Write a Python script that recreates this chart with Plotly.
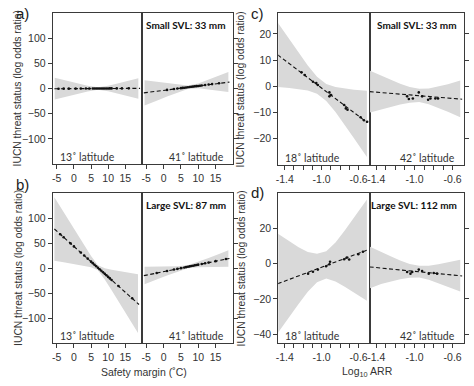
import plotly.graph_objects as go

W, H = 474, 386

# ---------------- data ----------------
# Panel a (safety margin, small SVL)
a13_band_x = [-5.6, -2, 1, 4, 7, 10, 13, 16, 18.8]
a13_band_up = [21.4, 15.5, 10.5, 5.7, 2.5, 5.7, 10.5, 15.5, 20.5]
a13_band_lo = [-22.0, -15.8, -10.7, -5.8, -2.5, -5.7, -10.5, -15.5, -20.5]
a13_line_x = [-5.7, 19.3]
a13_line_y = [-0.5, 0.3]
a13_pts_x = [-4.5, -3, -1.5, 0.5, 2, 3.5, 4.5, 5.5, 6, 6.5, 7, 7.5, 8, 8.5, 9, 9.5, 10, 10.5, 11, 12.5, 14, 16]
a13_pts_y = [-0.4, -0.3, -0.3, -0.2, -0.1, -0.1, 0, 0, 0, 0, 0.1, 0.1, 0.1, 0.1, 0.1, 0.1, 0.1, 0.2, 0.2, 0.2, 0.2, 0.3]

a41_band_x = [-5.5, -2, 1, 4, 7, 10, 13, 16, 18.7]
a41_band_up = [16.6, 13.3, 10.5, 7.9, 6.0, 10.0, 17.5, 25.6, 32.9]
a41_band_lo = [-33.6, -24.1, -16.1, -8.1, -1.0, 0.4, -1.9, -4.6, -7.1]
a41_line_x = [-5.7, 19.0]
a41_line_y = [-8.7, 12.7]
a41_pts_x = [1, 3, 4, 5, 5.5, 6, 6.5, 7, 7.5, 8, 8.5, 9, 9.5, 10, 10.5, 11, 12, 13, 14, 16]
a41_pts_y = [-2.8, -1.0, -0.1, 0.7, 1.2, 1.6, 2.1, 2.5, 3.0, 3.4, 3.8, 4.3, 4.7, 5.1, 5.6, 6.0, 6.9, 7.8, 8.7, 10.4]

# Panel b (safety margin, large SVL)
b13_band_x = [-5.7, -3, 0, 3, 5, 7, 9, 11, 13, 15, 17, 18.7]
b13_band_up = [141.6, 111.7, 78.6, 45.5, 23.9, 5.5, -0.5, -3.3, -5.7, -8.0, -10.3, -12.5]
b13_band_lo = [14.4, 11.3, 7.8, 4.3, 1.5, -4.5, -22.9, -44.5, -66.5, -88.6, -110.7, -130.0]
b13_line_x = [-5.7, 19.0]
b13_line_y = [78.0, -73.0]
b13_pts_x = [-4, -3, -1, 0, 2, 3, 4, 5, 5.5, 6, 6.5, 7, 7.5, 8, 8.5, 9, 9.5, 10, 10.5, 11, 13, 17]
b13_pts_y = [67.6, 61.5, 49.3, 43.2, 31.0, 24.9, 18.8, 12.7, 9.7, 6.6, 3.6, 0.5, -2.5, -5.6, -8.6, -11.7, -14.7, -17.8, -20.8, -23.9, -36.1, -60.5]

b41_band_x = [-5.5, -2, 1, 4, 7, 10, 13, 16, 18.7]
b41_band_up = [2.7, 2.85, 3.0, 3.5, 5.5, 11.9, 19.8, 28.0, 35.5]
b41_band_lo = [-32.7, -23.0, -14.8, -6.9, -0.5, 1.5, 2.0, 2.15, 2.3]
b41_line_x = [-5.7, 19.0]
b41_line_y = [-15.3, 19.0]
b41_pts_x = [-2, 1, 3, 4, 5, 6, 6.5, 7, 7.5, 8, 8.5, 9, 9.5, 10, 11, 12, 13, 15, 18]
b41_pts_y = [-10.1, -5.9, -3.1, -1.7, -0.3, 1.1, 1.8, 2.5, 3.2, 3.9, 4.6, 5.3, 6.0, 6.7, 8.1, 9.5, 10.9, 13.7, 17.9]

# Panel c (log10 ARR, small SVL)
c18_band_x = [-1.475, -1.35, -1.25, -1.15, -1.05, -0.95, -0.85, -0.75, -0.65, -0.51]
c18_band_up = [24.3, 17.9, 12.8, 8.0, 3.7, 0.95, -0.2, -0.8, -1.25, -1.7]
c18_band_lo = [-0.25, -0.65, -1.0, -1.6, -2.8, -5.55, -9.8, -14.6, -19.75, -26.9]
c18_line_x = [-1.475, -0.507]
c18_line_y = [12.0, -13.8]
c18_pts_x = [-1.218, -1.183, -1.094, -1.058, -1.041, -0.916, -0.898, -0.916, -0.756, -0.738, -0.72, -0.578, -0.542, -0.507]
c18_pts_y = [5.35, 4.33, 1.78, 1.27, 0.5, -2.3, -3.3, -3.8, -7.1, -8.4, -8.9, -11.8, -12.9, -13.5]

c42_band_x = [-1.466, -1.35, -1.25, -1.15, -1.05, -0.95, -0.85, -0.75, -0.65, -0.52]
c42_band_up = [6.0, 4.1, 2.5, 1.0, -0.2, -0.9, -0.8, 0.0, 0.8, 2.2]
c42_band_lo = [-10.0, -8.8, -7.8, -6.9, -6.2, -6.0, -6.8, -8.2, -9.7, -11.8]
c42_line_x = [-1.47, -0.5]
c42_line_y = [-2.0, -4.9]
c42_pts_x = [-1.077, -1.059, -1.017, -0.955, -0.92, -0.857, -0.833, -0.781, -0.753]
c42_pts_y = [-3.8, -4.8, -4.6, -2.3, -3.8, -5.1, -4.6, -4.6, -4.6]

# Panel d (log10 ARR, large SVL)
d18_band_x = [-1.475, -1.35, -1.25, -1.15, -1.05, -0.95, -0.85, -0.75, -0.65, -0.51]
d18_band_up = [17.0, 12.5, 9.2, 6.6, 5.6, 7.0, 11.9, 18.7, 25.9, 36.3]
d18_band_lo = [-39.4, -30.0, -22.9, -16.0, -10.6, -8.4, -10.1, -13.1, -16.3, -21.0]
d18_line_x = [-1.475, -0.51]
d18_line_y = [-11.4, 7.6]
d18_pts_x = [-1.147, -1.094, -1.041, -0.952, -0.916, -0.909, -0.756, -0.727, -0.702, -0.603, -0.553]
d18_pts_y = [-5.7, -4.6, -3.4, -1.5, -0.4, 1.0, 2.5, 3.4, 2.3, 5.3, 6.7]

d42_band_x = [-1.466, -1.35, -1.25, -1.15, -1.05, -0.95, -0.85, -0.75, -0.65, -0.52]
d42_band_up = [9.6, 6.5, 4.1, 1.7, -0.2, -1.2, -1.2, -0.4, 0.9, 2.2]
d42_band_lo = [-14.0, -11.5, -10.1, -8.9, -8.0, -7.9, -9.1, -11.0, -13.3, -15.8]
d42_line_x = [-1.47, -0.5]
d42_line_y = [-1.9, -7.0]
d42_pts_x = [-1.077, -1.042, -1.024, -0.955, -0.92, -0.85, -0.798, -0.763]
d42_pts_y = [-4.8, -5.7, -4.8, -3.4, -4.2, -5.7, -5.3, -5.7]

# tick labels
sm_ticks = [-5, 0, 5, 10, 15]
sm_ticktext = ["-5", "0", "5", "10", "15"]
arr_ticks = [-1.4, -1.0, -0.6]
arr_ticktext = ["-1.4", "-1.0", "-0.6"]
arr_minor_ticks = [-1.3, -1.2, -1.1, -0.9, -0.8, -0.7]
ab_yticks = [-100, -50, 0, 50, 100]
c_yticks = [-20, -10, 0, 10, 20]
d_yticks = [-40, -20, 0, 20]

panel_titles = ["Small SVL: 33 mm", "Large SVL: 87 mm", "Small SVL: 33 mm", "Large SVL: 112 mm"]
lat_left = ["13˚ latitude", "13˚ latitude", "18˚ latitude", "18˚ latitude"]
lat_right = ["41˚ latitude", "41˚ latitude", "42˚ latitude", "42˚ latitude"]
panel_letters = ["a)", "b)", "c)", "d)"]
ytitle = "IUCN threat status (log odds ratio)"
xtitle_sm = "Safety margin (˚C)"
xtitle_arr = "Log<sub>10</sub> ARR"

# ---------------- figure ----------------
def px(x):
    return x / W

def py(y):
    return 1 - y / H

fig = go.Figure()

BAND = "#d9d9d9"
AX = "#3a3a3a"
TXT = "#333333"
TICKFONT = dict(family="Liberation Sans, Arial", size=10.5, color=TXT)

subplots = [
    (1, a13_band_x, a13_band_up, a13_band_lo, a13_line_x, a13_line_y, a13_pts_x, a13_pts_y),
    (2, a41_band_x, a41_band_up, a41_band_lo, a41_line_x, a41_line_y, a41_pts_x, a41_pts_y),
    (3, b13_band_x, b13_band_up, b13_band_lo, b13_line_x, b13_line_y, b13_pts_x, b13_pts_y),
    (4, b41_band_x, b41_band_up, b41_band_lo, b41_line_x, b41_line_y, b41_pts_x, b41_pts_y),
    (5, c18_band_x, c18_band_up, c18_band_lo, c18_line_x, c18_line_y, c18_pts_x, c18_pts_y),
    (6, c42_band_x, c42_band_up, c42_band_lo, c42_line_x, c42_line_y, c42_pts_x, c42_pts_y),
    (7, d18_band_x, d18_band_up, d18_band_lo, d18_line_x, d18_line_y, d18_pts_x, d18_pts_y),
    (8, d42_band_x, d42_band_up, d42_band_lo, d42_line_x, d42_line_y, d42_pts_x, d42_pts_y),
]

for i, bx, up, lo, lx, ly, ptx, pty in subplots:
    xa = "x" if i == 1 else f"x{i}"
    ya = "y" if i == 1 else f"y{i}"
    fig.add_trace(go.Scatter(x=list(bx) + list(bx)[::-1], y=list(up) + list(lo)[::-1],
                             fill="toself", fillcolor=BAND, line=dict(width=0),
                             mode="lines", hoverinfo="skip", showlegend=False,
                             xaxis=xa, yaxis=ya))
    fig.add_trace(go.Scatter(x=lx, y=ly, mode="lines",
                             line=dict(color="#111", width=1.1, dash="4px,2.5px"),
                             showlegend=False, xaxis=xa, yaxis=ya))
    fig.add_trace(go.Scatter(x=ptx, y=pty, mode="markers",
                             marker=dict(color="#111", size=2.6),
                             showlegend=False, xaxis=xa, yaxis=ya))

# domains (pixels)
xd = {1: (50, 140), 2: (140, 231), 3: (50, 140), 4: (140, 231),
      5: (277, 369), 6: (369, 464), 7: (277, 369), 8: (369, 464)}
yd = {1: (13, 164), 2: (13, 164), 3: (193, 343), 4: (193, 343),
      5: (13, 165), 6: (13, 165), 7: (193, 343), 8: (193, 343)}
xr_sm = [-6.2, 19.9]
xr_arr = [-1.47, -0.48]
yranges = {1: [-150, 150], 2: [-150, 150], 3: [-150, 150], 4: [-150, 150],
           5: [-30, 28], 6: [-30, 28], 7: [-45, 40], 8: [-45, 40]}
yt = {1: ab_yticks, 2: ab_yticks, 3: ab_yticks, 4: ab_yticks,
      5: c_yticks, 6: c_yticks, 7: d_yticks, 8: d_yticks}

layout = {}
for i in range(1, 9):
    xk = "xaxis" if i == 1 else f"xaxis{i}"
    yk = "yaxis" if i == 1 else f"yaxis{i}"
    ya = "y" if i == 1 else f"y{i}"
    xa = "x" if i == 1 else f"x{i}"
    is_sm = i <= 4
    left = (i % 2 == 1)
    xdict = dict(
        domain=[px(xd[i][0]), px(xd[i][1])], anchor=ya,
        range=xr_sm if is_sm else xr_arr,
        tickvals=sm_ticks if is_sm else arr_ticks,
        ticktext=sm_ticktext if is_sm else arr_ticktext,
        ticks="outside", ticklen=4, tickwidth=1, tickcolor=AX,
        showline=True, linecolor=AX, linewidth=1, mirror=True,
        showgrid=False, zeroline=False, tickfont=TICKFONT, fixedrange=True,
    )
    if not is_sm:
        xdict["minor"] = dict(tickvals=arr_minor_ticks, ticks="outside", ticklen=4,
                              tickwidth=1, tickcolor=AX, showgrid=False)
    layout[xk] = xdict
    layout[yk] = dict(
        domain=[py(yd[i][1]), py(yd[i][0])], anchor=xa,
        range=yranges[i], tickvals=yt[i],
        side="left" if left else "right",
        showticklabels=left,
        ticks="outside", ticklen=4, tickwidth=1, tickcolor=AX,
        showline=True, linecolor=AX, linewidth=1, mirror=True,
        showgrid=False, zeroline=False, tickfont=TICKFONT, fixedrange=True,
    )

anns = []
LABFONT = dict(family="Lato, Open Sans", size=10.5, color=TXT)
TITFONT = dict(family="Lato, Open Sans", size=10, color="#111")
for p in range(4):
    li = 2 * p + 1
    ri = 2 * p + 2
    xl0, xl1 = xd[li]
    xr0, xr1 = xd[ri]
    y0, y1 = yd[li]
    anns.append(dict(x=px(xr1 - 5), y=py(y0 + 12), xref="paper", yref="paper",
                     text="<b>" + panel_titles[p] + "</b>", showarrow=False,
                     xanchor="right", yanchor="middle", font=TITFONT))
    anns.append(dict(x=px(xl0 + 5), y=py(y1 - 7), xref="paper", yref="paper",
                     text=lat_left[p], showarrow=False,
                     xanchor="left", yanchor="middle", font=LABFONT))
    anns.append(dict(x=px(xr1 - 7), y=py(y1 - 7), xref="paper", yref="paper",
                     text=lat_right[p], showarrow=False,
                     xanchor="right", yanchor="middle", font=LABFONT))
    tx = 15 if p < 2 else 240
    anns.append(dict(x=px(tx), y=py((y0 + y1) / 2), xref="paper", yref="paper",
                     text=ytitle, showarrow=False, textangle=-90,
                     xanchor="center", yanchor="middle",
                     font=dict(family="Liberation Sans, Arial", size=10.3, color=TXT)))

letter_pos = [(20, 13), (20, 185), (256, 13), (256, 192)]
for (lx_, ly_), t in zip(letter_pos, panel_letters):
    anns.append(dict(x=px(lx_), y=py(ly_), xref="paper", yref="paper", text=t,
                     showarrow=False, xanchor="center", yanchor="middle",
                     font=dict(family="Liberation Sans, Arial", size=15, color="#222")))

anns.append(dict(x=px(142), y=py(372), xref="paper", yref="paper", text=xtitle_sm,
                 showarrow=False, xanchor="center", yanchor="middle",
                 font=dict(family="Liberation Sans, Arial", size=10.5, color=TXT)))
anns.append(dict(x=px(367), y=py(372), xref="paper", yref="paper", text=xtitle_arr,
                 showarrow=False, xanchor="center", yanchor="middle",
                 font=dict(family="Liberation Sans, Arial", size=10.5, color=TXT)))

fig.update_layout(
    width=W, height=H, autosize=False,
    margin=dict(l=0, r=0, t=0, b=0),
    paper_bgcolor="white", plot_bgcolor="white",
    showlegend=False, annotations=anns,
    **layout,
)

fig.write_html("out.html", config={"displayModeBar": False},
               post_script="document.body.style.margin='0px';")
